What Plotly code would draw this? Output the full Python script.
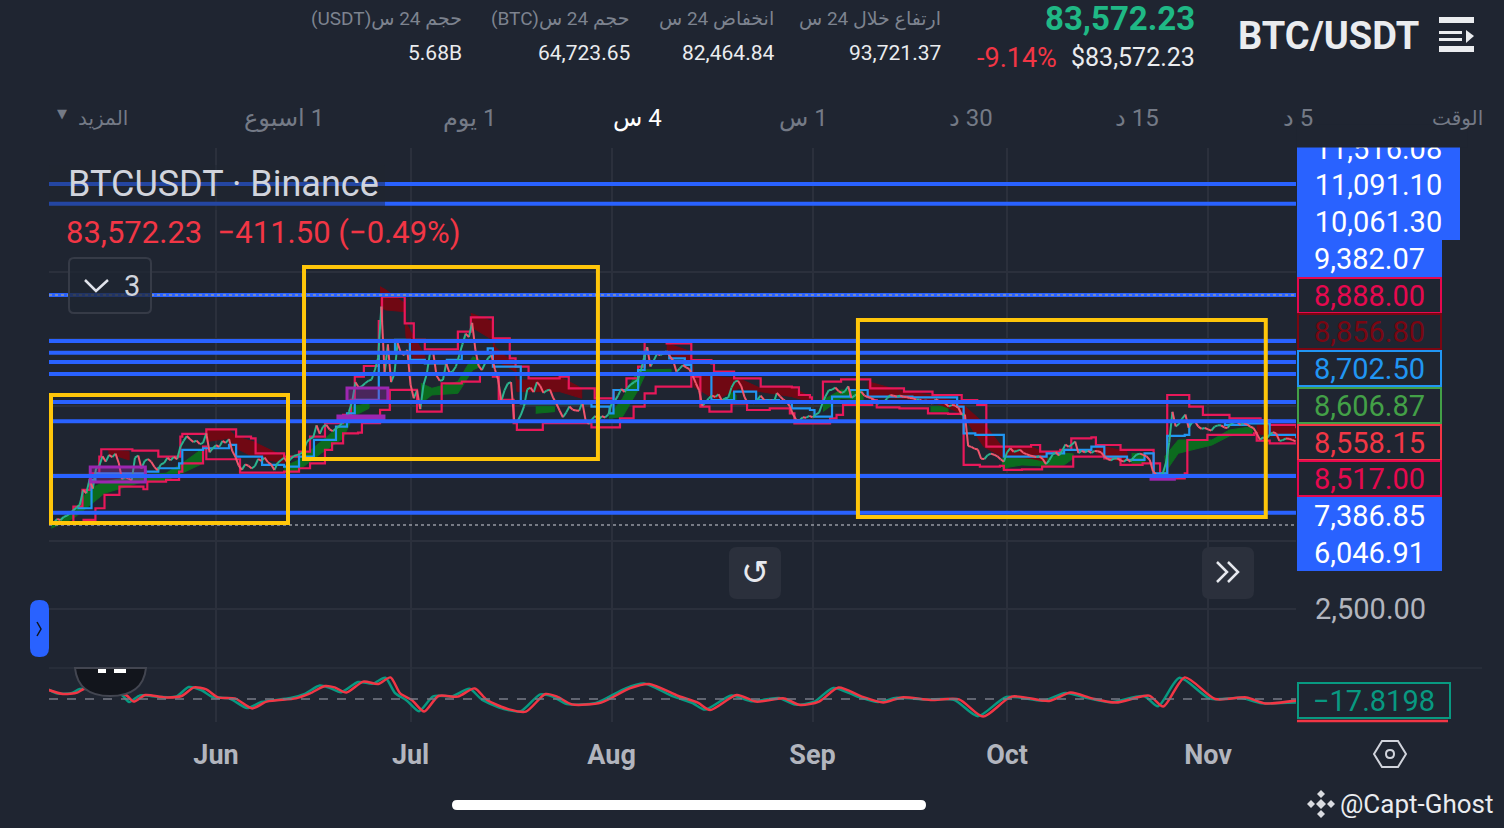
import pandas as pd
import plotly.graph_objects as go
from plotly.subplots import make_subplots

W, H = 1504, 828
BG = "#1f2531"
GRID = "#2b303c"
COND = "Roboto, DejaVu Sans"
CHART = "Roboto, DejaVu Sans"

# 12h closes, one pair per day, first value 2019-05-06 12:00
price_may = [5720, 5690, 5830, 5780, 5900, 5950, 6040, 6150, 6250, 6350, 6900, 6780, 7300, 6950, 7700, 7800,
             8150, 7950, 8200, 8120, 8250, 7900, 7300, 7380, 7320, 7260, 8100, 8180, 7700, 7980, 8050, 7950,
             7750, 7630, 7850, 7900, 8100, 8000, 8130, 8040, 8500, 8720, 8900, 8780, 8680, 8730, 8600, 8650,
             9000, 8300, 8450, 8560]
price_jun = [8500, 8720, 8650, 8790, 8350, 8120, 7800, 7650, 7850, 7800, 7700, 7790, 8050, 7980, 8100, 7930,
             7850, 7640, 7900, 8000, 8100, 7920, 8050, 8160, 8200, 8230, 8350, 8680, 8800, 8860, 9300, 8980,
             9250, 9320, 9150, 9080, 9180, 9270, 9400, 9530, 9800, 10180, 10900, 10700, 10750, 10860, 10950, 11000,
             11350, 11800, 13700, 11200, 12300, 10900, 11200, 12350, 12000, 11900, 12100, 10800]
price_jul = [10300, 10600, 9900, 10800, 11200, 11980, 12000, 11150, 10950, 10980, 11600, 11250, 11300, 11480,
             11900, 12300, 12700, 12570, 13100, 12100, 11500, 11350, 11600, 11800, 11900, 11380, 11000, 10200,
             10600, 10850, 10900, 9430, 9450, 9680, 10000, 10630, 10700, 10530, 10900, 10760, 10500, 10590,
             10620, 10320, 10100, 9840, 9600, 9770, 10000, 9880, 9850, 9840, 10150, 9480, 9350, 9530, 9650, 9500,
             9640, 9590, 9700, 10090]
price_aug = [10200, 10400, 10650, 10530, 10700, 10820, 10900, 10980, 11300, 11800, 12200, 11480, 11700, 11950,
             11900, 11970, 12050, 11860, 11700, 11290, 11400, 11530, 11450, 11380, 11150, 10860, 10600, 10020,
             10150, 10300, 10400, 10350, 10450, 10220, 10300, 10320, 10700, 10920, 10950, 10760, 10350, 10130,
             10200, 10110, 10250, 10400, 10250, 10140, 10250, 10130, 10500, 10370, 10250, 10170, 10000, 9700,
             9500, 9490, 9600, 9580, 9650, 9600]
price_sep = [9700, 9770, 10100, 10380, 10600, 10620, 10700, 10570, 10500, 10560, 10750, 10310, 10400, 10480,
             10550, 10400, 10350, 10310, 10250, 10100, 10150, 10160, 10300, 10420, 10400, 10360, 10400, 10360,
             10350, 10310, 10300, 10250, 10250, 10190, 10220, 10160, 10100, 10270, 10200, 10170, 10100, 10000,
             10050, 10030, 9950, 9690, 9700, 8530, 8500, 8430, 8400, 8060, 8050, 8190, 8250, 8210, 8150, 8040,
             7950, 8300]
price_oct = [8450, 8320, 8350, 8390, 8280, 8230, 8180, 8150, 8120, 8150, 8050, 7860, 8000, 8210, 8300, 8180,
             8350, 8590, 8500, 8590, 8700, 8270, 8350, 8300, 8350, 8280, 8350, 8340, 8300, 8150, 8050, 8000,
             8070, 8070, 8000, 7950, 8050, 7950, 8100, 8220, 8250, 8200, 8150, 8020, 7600, 7470, 7450, 7500,
             7900, 8660, 9800, 9260, 9350, 9550, 9700, 9210, 9400, 9430, 9250, 9170, 9200, 9150]
price_nov = [9100, 9250, 9300, 9300, 9220, 9200, 9350, 9410, 9420, 9320, 9380, 9340, 9250, 9200, 9000, 8770,
             8850, 8810, 8950, 9040, 9000, 8720, 8750, 8810, 8800, 8760, 8700]

# channel lines: days from 2019-06-01, price
upper_days = [-25.4, -22.0, -20.6, -19.4, -18.0, -17.7, -12.9, -8.9, -8.9, -7.5, -5.5, -5.2, -1.8, -1.5, 2.0, 3.1,
              5.4, 6.1, 10.5, 12.8, 14.5, 16.8, 19.6, 20.8, 21.4, 22.8, 25.1, 25.1, 25.6, 29.1, 29.1, 30.5, 32.2,
              36.2, 37.3, 39.3, 42.7, 42.7, 45.3, 46.2, 48.2, 53.0, 54.4, 58.4, 61.3, 63.3, 65.1, 66.1, 69.5, 73.3,
              73.3, 76.4, 76.8, 79.9, 83.3, 84.0, 88.8, 89.9, 91.6, 91.9, 93.6, 96.4, 100.5, 100.9, 106.1, 110.5,
              115.0, 117.4, 118.8, 118.8, 121.2, 125.7, 127.1, 130.2, 131.9, 135.0, 135.7, 139.5, 142.6, 144.6,
              145.6, 146.7, 146.7, 150.1, 150.1, 151.8, 152.2, 156.3, 161.1, 162.5, 166.6]
upper_price = [5667, 6285, 6903, 7521, 8139, 8411, 8361, 8324, 8139, 8139, 8880, 8979, 8979, 9152, 9152, 8880,
               8818, 8262, 8139, 8324, 8880, 9375, 9684, 10240, 11105, 11500, 11500, 13169, 14071, 14010, 13083,
               12465, 12119, 12119, 12774, 13305, 13305, 12526, 11785, 11476, 11043, 11105, 10672, 10302, 10610,
               11042, 11475, 12464, 12340, 12093, 11722, 11598, 11289, 11042, 11042, 10733, 10708, 10424, 10338,
               10177, 10919, 11005, 11005, 10671, 10548, 10424, 10239, 10053, 9559, 8508, 8508, 8570, 8323, 8385,
               8817, 8855, 8570, 8385, 8385, 7890, 7520, 8385, 10424, 10424, 9992, 9992, 9683, 9559, 9497, 9312, 9188]
lower_days = [-20.6, -18.6, -17.2, -14.9, -11.2, -10.6, -7.7, -5.7, -5.2, -2.3, -2.0, -1.5, 2.8, 3.7, 10.5, 12.8,
              14.5, 16.8, 17.9, 19.6, 21.9, 22.5, 25.3, 26.8, 30.2, 31.0, 34.5, 34.8, 37.9, 40.7, 42.7, 43.6, 45.9,
              46.4, 49.6, 50.4, 57.9, 57.9, 60.7, 62.3, 64.4, 66.1, 67.8, 73.3, 74.7, 76.1, 79.2, 79.5, 81.3, 81.9,
              85.4, 88.5, 89.2, 91.9, 94.7, 95.7, 96.7, 101.2, 101.9, 105.4, 109.8, 112.9, 115.3, 115.3, 117.8,
              120.9, 121.5, 124.3, 127.4, 130.8, 132.2, 137.0, 139.5, 142.9, 144.6, 147.7, 149.4, 149.8, 152.9,
              160.1, 160.5, 162.5, 166.6]
lower_price = [5790, 6223, 6717, 7027, 6927, 7212, 7273, 7582, 7891, 7891, 8510, 8040, 8040, 7545, 7582, 7706,
               7891, 8386, 8633, 9004, 9029, 9375, 9869, 10611, 10611, 9807, 9807, 10858, 10920, 11229, 11105,
               10240, 9375, 9127, 9127, 9375, 9375, 9226, 9226, 9559, 9992, 10486, 10733, 11104, 9992, 9806, 9806,
               10115, 10115, 9868, 9930, 9744, 9374, 9374, 9559, 9683, 10053, 10239, 9967, 9930, 9744, 9720, 9497,
               7829, 7767, 7792, 7643, 7668, 7767, 7767, 8138, 8076, 7829, 7890, 7334, 7334, 7520, 8755, 8941,
               9003, 8731, 8632, 8632]
base_days = [-21.4, -19.2, -18.6, -10.9, -8.9, -5.7, -5.2, -2.0, 2.0, 3.1, 7.1, 10.5, 12.8, 15.1, 18.5, 20.2, 21.4,
             25.1, 25.1, 27.6, 29.9, 32.2, 35.6, 37.9, 41.9, 42.7, 47.0, 57.9, 60.7, 61.3, 65.1, 66.1, 69.9, 72.3,
             73.3, 76.4, 79.9, 83.3, 86.8, 88.8, 91.6, 92.3, 95.0, 97.8, 100.5, 107.4, 114.3, 115.3, 117.1, 121.5,
             128.1, 130.8, 135.0, 137.0, 140.5, 143.2, 144.6, 146.0, 146.7, 149.4, 150.1, 155.6, 159.1, 162.5, 166.6]
base_price = [6223, 7273, 7521, 7582, 7706, 7891, 8386, 8448, 8571, 8139, 7830, 7768, 8139, 8757, 9251, 9745, 10240,
              10487, 11970, 12465, 11723, 11599, 11723, 11970, 12156, 11476, 10116, 9992, 9745, 10610, 11351, 11969,
              11784, 11537, 11166, 10239, 10548, 10239, 10177, 9930, 9868, 9621, 10362, 10610, 10362, 10338, 9992,
              9003, 8941, 8138, 8261, 8385, 8508, 8138, 8014, 8261, 7520, 7520, 8904, 8941, 9435, 9312, 9374, 8941,
              8817]

# cloud bands, None splits the pieces
green_days = [-25.4, -22.0, -19.7, -17.2, -11.2, -7.7, -5.2, -2.0, None, 10.5, 12.8, 16.2, 19.6, 21.1, 23.6, None,
              31.6, 33.3, 37.3, 39.6, 40.7, None, 49.3, 52.2, None, 60.6, 62.7, 65.1, 66.4, 70.2, None, 79.2, 80.2,
              None, 93.6, 96.4, 99.8, None, 110.2, 112.9, None, 121.2, 124.3, 127.4, 130.8, 132.2, None, 141.2,
              143.2, None, 146.3, 148.4, 153.6, 156.3, 159.8]
green_top = [5667, 6099, 6903, 7212, 7459, 7521, 7891, 8448, None, 7768, 8015, 8695, 9375, 9993, 10116, None,
             10858, 10672, 10920, 11846, 11723, None, 9993, 9993, None, 9621, 10300, 11351, 11351, 11376, None,
             10610, 10424, None, 10239, 10610, 10548, None, 9992, 9992, None, 8076, 8076, 8014, 8261, 8236, None,
             8261, 8236, None, 8138, 8755, 8755, 9126, 9250]
green_low = [5481, 5852, 6285, 6779, 7212, 7249, 7521, 7891, None, 7521, 7644, 8262, 8818, 9622, 9931, None,
             10116, 10425, 10487, 11352, 11476, None, 9745, 9807, None, 9559, 9621, 10610, 11290, 11290, None,
             10264, 10239, None, 9806, 10300, 10239, None, 9806, 9806, None, 7705, 7829, 7792, 7829, 8076, None,
             7890, 7890, None, 7520, 8261, 8570, 8904, 9003]
red_days = [-16.6, -13.4, None, -1.5, 2.0, 3.1, 5.7, 10.5, None, 25.3, 26.2, 29.1, 29.3, 30.5, 32.2, None, 39.3,
            42.7, 43.0, 46.2, 46.4, 48.2, 53.0, 56.4, None, 69.5, 73.3, 73.7, 77.1, 80.6, 84.0, 88.8, 91.6, None,
            100.5, 106.1, 110.5, 115.0, 118.4, 121.2, 125.7, 128.1, None, 135.7, 139.5, 140.5, None, 160.5, 166.6]
red_top = [8386, 8324, None, 9127, 9127, 8880, 8695, 8139, None, 14442, 14319, 13824, 13083, 12588, 11908, None,
           13453, 13144, 12217, 11538, 10981, 10981, 11105, 10672, None, 12340, 12031, 11227, 11104, 11042, 10671,
           10708, 10362, None, 10919, 10548, 10424, 10115, 9374, 8508, 8508, 8261, None, 8570, 8385, 8323, None,
           9312, 9250]
red_low = [8262, 8015, None, 8695, 8818, 8448, 8139, 7891, None, 13700, 13577, 13515, 12588, 11723, 11723, None,
           12959, 12465, 11723, 11290, 10549, 10549, 10549, 10302, None, 11969, 11660, 10733, 10239, 10671, 10548,
           10362, 10177, None, 10362, 10300, 10177, 9744, 8508, 8138, 8076, 7952, None, 8261, 7952, 8014, None,
           9003, 8694]

# oscillator pane
wave_red_days = [-25.8, -23.6, -21.4, -20.2, -13.9, -12.7, -10.9, -7.9, -5.3, -3.4, -1.5, 0.3, 2.9, 5.6, 7.8, 12.3,
                 14.5, 16.8, 18.3, 20.1, 22.7, 25.0, 26.9, 28.4, 30.2, 32.1, 34.3, 37.3, 39.9, 41.8, 45.2, 47.8, 50.8,
                 52.6, 54.9, 59.4, 63.8, 66.8, 71.3, 74.3, 76.2, 80.3, 83.3, 87.6, 90.1, 93.0, 96.0, 99.6, 102.9,
                 105.8, 110.2, 114.6, 118.3, 122.7, 128.5, 131.8, 135.1, 138.8, 143.9, 146.1, 149.4, 154.1, 158.9,
                 161.8, 166.6]
wave_red = [45, 25, 32, 53, 20, -13, 20, 8, 15, 58, 48, 8, 3, -47, -13, 3, 28, 65, 58, 32, 87, 75, 108, 28, -5, -63,
            15, 12, 53, -5, -52, -63, 25, 12, -27, -18, 53, 75, 15, -18, -55, 20, -13, 3, -30, -13, 57, 12, -17, 8, -5,
            -2, -88, 12, -10, 32, 3, -18, 17, -38, 108, 0, 8, -22, -8]
wave_green_days = [-25.8, -24.4, -22.2, -21.0, -14.6, -13.4, -11.7, -8.7, -6.1, -4.2, -2.3, -0.5, 2.1, 4.8, 7.0, 11.5,
                   13.7, 16.0, 17.5, 19.3, 21.9, 24.2, 26.1, 27.6, 29.4, 31.3, 33.5, 36.5, 39.1, 41.0, 44.4, 47.0,
                   50.0, 51.8, 54.1, 58.6, 63.0, 66.0, 70.5, 73.5, 75.4, 79.5, 82.5, 86.8, 89.3, 92.2, 95.2, 98.8,
                   102.1, 105.0, 109.4, 113.8, 117.5, 121.9, 127.7, 131.0, 134.3, 138.0, 143.1, 145.3, 148.6, 153.3,
                   158.1, 161.0, 166.6]
wave_green = [47, 27, 30, 50, 22, -15, 18, 10, 13, 60, 45, 10, 2, -45, -15, 5, 26, 67, 56, 34, 85, 77, 106, 30, -7,
              -61, 13, 14, 51, -3, -50, -61, 23, 14, -25, -20, 51, 77, 13, -20, -53, 18, -11, 5, -28, -15, 55, 14, -15,
              6, -3, -4, -86, 10, -8, 30, 5, -16, 15, -36, 106, 2, 6, -20, -18]

# horizontal price levels
level_prices = [18249, 17520, 14133, 12427, 11993, 11646, 11203, 10164, 9448, 7419, 6058]
dotted_prices = [14133, 5602]

# highlighted boxes
box_start = [-25.45, 13.57, 99.0]
box_end = [11.1, 58.9, 161.9]
box_low = [5676, 8050, 5899]
box_high = [10424, 15171, 13205]
block_start = [-19.4, 20.2, 18.8, 144.2]
block_end = [-10.9, 26.5, 25.9, 147.8]
block_low = [7197, 10201, 9533, 7300]
block_high = [7753, 10683, 9645, 7345]

month_ticks = ["2019-06-01", "2019-07-01", "2019-08-01", "2019-09-01", "2019-10-01", "2019-11-01"]
month_names = ["Jun", "Jul", "Aug", "Sep", "Oct", "Nov"]
price_ticks = [2500, 5000, 7500, 10000, 12500, 15000, 17500]
price_tick_text = ["2,500.00", "", "", "", "", "", ""]

label_texts = ["11,516.08", "11,091.10", "10,061.30", "9,382.07", "8,888.00", "8,856.80", "8,702.50", "8,606.87",
               "8,558.15", "8,517.00", "7,386.85", "6,046.91"]
label_colors = ["#2962ff", "#2962ff", "#2962ff", "#2962ff", "#e5094f", "#7a0612", "#2196f3", "#43a047",
                "#f23645", "#e5094f", "#2962ff", "#2962ff"]

header_titles = ["(USDT)حجم 24 س", "(BTC)حجم 24 س", "انخفاض 24 س", "ارتفاع خلال 24 س"]
header_values = ["5.68B", "64,723.65", "82,464.84", "93,721.37"]
timeframes = ["المزيد", "\u200f1 اسبوع", "\u200f1 يوم", "\u200f4 س", "\u200f1 س", "\u200f30 د", "\u200f15 د", "\u200f5 د", "الوقت"]


def px(x):
    return x / W


def py(y):
    return 1 - y / H


def to_dates(days):
    return [None if d is None else pd.Timestamp("2019-06-01") + pd.to_timedelta(d, unit="D") for d in days]


def band_polygon(days, top, low):
    xs, ys = [], []
    piece = []
    for d, t, l in list(zip(days, top, low)) + [(None, None, None)]:
        if d is None:
            if piece:
                xs += [p[0] for p in piece] + [p[0] for p in piece[::-1]] + [None]
                ys += [p[1] for p in piece] + [p[2] for p in piece[::-1]] + [None]
            piece = []
        else:
            piece.append((d, t, l))
    return to_dates(xs), ys


def round_rect(x0, y0, x1, y1, r):
    return (f"M{px(x0 + r)},{py(y0)} L{px(x1 - r)},{py(y0)} Q{px(x1)},{py(y0)} {px(x1)},{py(y0 + r)} "
            f"L{px(x1)},{py(y1 - r)} Q{px(x1)},{py(y1)} {px(x1 - r)},{py(y1)} L{px(x0 + r)},{py(y1)} "
            f"Q{px(x0)},{py(y1)} {px(x0)},{py(y1 - r)} L{px(x0)},{py(y0 + r)} Q{px(x0)},{py(y0)} {px(x0 + r)},{py(y0)} Z")


def poly(points, close=True):
    s = "M" + " L".join(f"{px(x)},{py(y)}" for x, y in points)
    return s + " Z" if close else s


def paper_shape(path, fill="rgba(0,0,0,0)", line="rgba(0,0,0,0)", width=0):
    fig.add_shape(type="path", path=path, xref="paper", yref="paper", fillcolor=fill,
                  line=dict(color=line, width=width), layer="above")


def text(x, y, s, size, color, anchor="center", font=COND, weight=None):
    fig.add_annotation(x=px(x), y=py(y), xref="paper", yref="paper", text=s, showarrow=False, xanchor=anchor,
                       yanchor="middle", font=dict(size=size, color=color, family=font, weight=weight))


fig = make_subplots(rows=2, cols=1, shared_xaxes=True)

# bands
gx, gy = band_polygon(green_days, green_top, green_low)
fig.add_trace(go.Scatter(x=gx, y=gy, mode="lines", fill="toself", fillcolor="#0c6b1e", line=dict(color="#0c6b1e", width=1)), 1, 1)
rx, ry = band_polygon(red_days, red_top, red_low)
fig.add_trace(go.Scatter(x=rx, y=ry, mode="lines", fill="toself", fillcolor="#700813", line=dict(color="#700813", width=1)), 1, 1)

# channel and base lines
fig.add_trace(go.Scatter(x=to_dates(upper_days), y=upper_price, mode="lines", line=dict(color="#e8185a", width=2.2, shape="hv")), 1, 1)
fig.add_trace(go.Scatter(x=to_dates(lower_days), y=lower_price, mode="lines", line=dict(color="#e8185a", width=2.2, shape="hv")), 1, 1)
fig.add_trace(go.Scatter(x=to_dates(base_days), y=base_price, mode="lines", line=dict(color="#2196f3", width=2.2, shape="hv")), 1, 1)

# price, coloured by direction
prices = price_may + price_jun + price_jul + price_aug + price_sep + price_oct + price_nov
price_dates = pd.date_range("2019-05-06 12:00", periods=len(prices), freq="12h")
up_x, up_y, down_x, down_y = [], [], [], []
for i in range(1, len(prices)):
    if prices[i] >= prices[i - 1]:
        up_x += [price_dates[i - 1], price_dates[i], None]
        up_y += [prices[i - 1], prices[i], None]
    else:
        down_x += [price_dates[i - 1], price_dates[i], None]
        down_y += [prices[i - 1], prices[i], None]
fig.add_trace(go.Scatter(x=up_x, y=up_y, mode="lines", line=dict(color="#2bb38f", width=2)), 1, 1)
fig.add_trace(go.Scatter(x=down_x, y=down_y, mode="lines", line=dict(color="#f0566e", width=2)), 1, 1)

# oscillator
fig.add_trace(go.Scatter(x=to_dates(wave_green_days), y=wave_green, mode="lines",
                         line=dict(color="#089981", width=2.5, shape="spline", smoothing=0.7)), 2, 1)
fig.add_trace(go.Scatter(x=to_dates(wave_red_days), y=wave_red, mode="lines",
                         line=dict(color="#f23645", width=2.5, shape="spline", smoothing=0.7)), 2, 1)

x_range = [pd.Timestamp("2019-06-01") + pd.to_timedelta(-25.76, unit="D"),
           pd.Timestamp("2019-06-01") + pd.to_timedelta(166.56, unit="D")]

fig.update_layout(
    width=W, height=H, autosize=False, margin=dict(l=0, r=0, t=0, b=0), showlegend=False,
    paper_bgcolor=BG, plot_bgcolor=BG,
    xaxis=dict(domain=[px(49), px(1296)], range=x_range, tickvals=month_ticks, showticklabels=False, showgrid=True,
               gridcolor=GRID, gridwidth=1.5, zeroline=False, ticks=""),
    xaxis2=dict(domain=[px(49), px(1296)], range=x_range, tickvals=month_ticks, ticktext=month_names, showgrid=True,
                gridcolor=GRID, gridwidth=1.5, zeroline=False, ticks="", ticklabelstandoff=14,
                tickfont=dict(size=27, color="#b2b5be", family=CHART, weight="bold")),
    yaxis=dict(domain=[py(668), py(148)], range=[298, 19585], side="right", tickvals=price_ticks, ticktext=price_tick_text,
               showgrid=True, gridcolor=GRID, gridwidth=1.5, zeroline=False, ticks="", ticklabelstandoff=18,
               tickfont=dict(size=29, color="#b2b5be", family=CHART)),
    yaxis2=dict(domain=[py(722), py(668)], range=[-115, 155], side="right", showticklabels=False, showgrid=False,
                zeroline=False, ticks=""),
)

# order blocks
for s, e, lo, hi in zip(block_start, block_end, block_low, block_high):
    sx, ex = to_dates([s, e])
    fig.add_shape(type="rect", x0=sx, x1=ex, y0=lo, y1=hi, xref="x", yref="y", layer="above",
                  line=dict(color="#9c27b0", width=3), fillcolor="rgba(156,39,176,0.35)")
# levels
for p in level_prices:
    fig.add_shape(type="line", x0=0, x1=1, y0=p, y1=p, xref="x domain", yref="y", layer="above",
                  line=dict(color="#2962ff", width=4))
for p in dotted_prices:
    fig.add_shape(type="line", x0=0, x1=1, y0=p, y1=p, xref="x domain", yref="y", layer="above",
                  line=dict(color="#9598a1", width=1.5, dash="dot"))
# yellow boxes
for s, e, lo, hi in zip(box_start, box_end, box_low, box_high):
    sx, ex = to_dates([s, e])
    fig.add_shape(type="rect", x0=sx, x1=ex, y0=lo, y1=hi, xref="x", yref="y", layer="above",
                  line=dict(color="#ffc60a", width=4))
# oscillator zero line
fig.add_shape(type="line", x0=0, x1=1, y0=0, y1=0, xref="x2 domain", yref="y2", layer="above",
              line=dict(color="#787b86", width=1.5, dash="dash"))

# pane separator
paper_shape(poly([(49, 668), (1482, 668)], close=False), line=GRID, width=1.5)

# legend dimming and collapse button
paper_shape(round_rect(49, 165, 385, 210, 1), fill="rgba(31,37,49,0.45)")
paper_shape(round_rect(69, 258, 151, 313, 5), fill="rgba(31,37,49,0.75)", line="#363b47", width=2)
paper_shape(poly([(85, 280), (96, 291), (108, 280)], close=False), line="#e0e3eb", width=2.5)

# oscillator badge
paper_shape("M" + f"{px(75)},{py(668)} Q{px(78)},{py(696)} {px(110)},{py(696)} Q{px(143)},{py(696)} {px(146)},{py(668)} Z",
            fill="#12151c", line="#434651", width=2)
paper_shape(round_rect(98, 669, 106, 673, 0), fill="#ffffff")
paper_shape(round_rect(114, 669, 126, 673, 0), fill="#ffffff")

# side handle and floating buttons
paper_shape(round_rect(30, 600, 49, 657, 9), fill="#2962ff")
paper_shape(poly([(37, 622), (41, 629), (37, 636)], close=False), line="#12151c", width=1.5)
paper_shape(round_rect(729, 547, 781, 599, 8), fill="#2b303c")
paper_shape(round_rect(1202, 547, 1254, 599, 8), fill="#2b303c")
paper_shape(poly([(1217, 562), (1227, 572), (1217, 582)], close=False), line="#e6e8ee", width=2.5)
paper_shape(poly([(1228, 562), (1238, 572), (1228, 582)], close=False), line="#e6e8ee", width=2.5)

# hex icon, menu icon, home bar
paper_shape(poly([(1374, 754), (1382, 741), (1398, 741), (1406, 754), (1398, 767), (1382, 767)]), line="#d1d4dc", width=2)
paper_shape(round_rect(1386, 750, 1394, 758, 4), line="#d1d4dc", width=2)
paper_shape(round_rect(1439, 17, 1474, 23, 0), fill="#eaecef")
paper_shape(round_rect(1439, 31, 1462, 34, 0), fill="#eaecef")
paper_shape(round_rect(1439, 38, 1462, 41, 0), fill="#eaecef")
paper_shape(poly([(1466, 30), (1474, 36), (1466, 43)]), fill="#eaecef")
paper_shape(round_rect(1439, 46, 1474, 52, 0), fill="#eaecef")
paper_shape(round_rect(452, 800, 926, 810, 5), fill="#ffffff")

# logo
for cx, cy, r in [(1321, 794, 4), (1321, 814, 4), (1311, 804, 4), (1331, 804, 4), (1321, 804, 5)]:
    paper_shape(poly([(cx, cy - r), (cx + r, cy), (cx, cy + r), (cx - r, cy)]), fill="#d9dbe0")

# header
for right, title, value in zip([464, 632, 776, 943], header_titles, header_values):
    text(right, 19, title, 19, "#7d838f", "right")
    text(right, 53, value, 21, "#eaecef", "right")
text(1197, 19, "83,572.23", 33, "#1fb885", "right", weight="bold")
text(1197, 58, "$83,572.23", 25, "#eaecef", "right")
text(1059, 58, "-9.14%", 27, "#f23645", "right")
text(1421, 36, "BTC/USDT", 38, "#eaecef", "right", weight="bold")

# legend
text(66, 184, "BTCUSDT · Binance", 36, "#d1d4dc", "left", font=CHART)
text(64, 233, "83,572.23  −411.50 (−0.49%)", 31, "#f23645", "left", font=CHART)
text(132, 286, "3", 29, "#d1d4dc", font=CHART)

# price labels
for i, (label, color) in enumerate(zip(label_texts, label_colors)):
    wide = i < 3
    filled = color == "#2962ff"
    fig.add_annotation(x=px(1297), y=py(148 + i * 36.75), xref="paper", yref="paper", xanchor="left", yanchor="middle",
                       text=label, showarrow=False, width=159 if wide else 141, height=33, align="center",
                       bgcolor=color if filled else BG, bordercolor=color, borderwidth=2, borderpad=0,
                       font=dict(size=29, color="#ffffff" if filled else color, family=CHART))
# top edge clips the first label
fig.add_annotation(x=px(1296), y=py(148), xref="paper", yref="paper", xanchor="left", yanchor="bottom", text=" ",
                   showarrow=False, width=168, height=20, bgcolor=BG, font=dict(size=8))
fig.add_annotation(x=px(1297), y=py(700), xref="paper", yref="paper", xanchor="left", yanchor="middle", text="−17.8198",
                   showarrow=False, width=150, height=33, bgcolor=BG, bordercolor="#089981", borderwidth=2, borderpad=0,
                   font=dict(size=29, color="#089981", family=CHART))
paper_shape(poly([(1297, 721), (1448, 721)], close=False), line="#f23645", width=2.5)

# timeframe row
for center, tf in zip([103, 284, 469, 637, 803, 971, 1137, 1298, 1457], timeframes):
    size = 20 if tf in ("المزيد", "الوقت") else 24
    text(center, 118, tf, size, "#ffffff" if tf.endswith("4 س") else "#747a86")
text(62, 114, "▼", 13, "#747a86")

text(755, 572, "↺", 34, "#e6e8ee", font="DejaVu Sans")
text(1338, 804, "@Capt-Ghost", 26, "#eaecef", "left")

fig.write_html("out.html", config=dict(displayModeBar=False),
               post_script="document.body.style.margin='0';document.body.style.background='" + BG + "';")
